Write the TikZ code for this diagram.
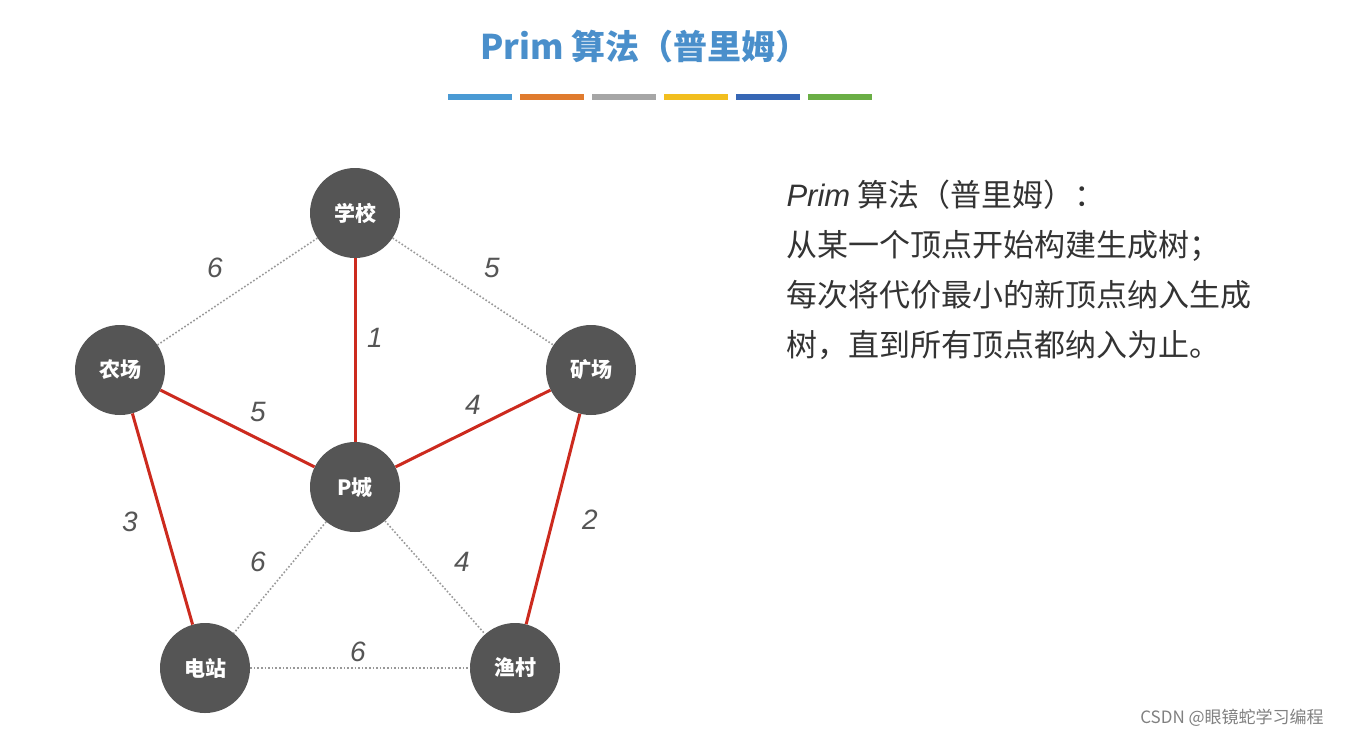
\documentclass[tikz,border=0pt]{standalone}
\usepackage{fontspec}
\setmainfont{Liberation Sans}
\newfontfamily\cjk{Noto Sans CJK SC}
\definecolor{nodegray}{HTML}{555555}
\definecolor{redge}{HTML}{CC2A1E}
\definecolor{titleblue}{HTML}{4A8FCB}
\definecolor{labgray}{HTML}{555555}
\begin{document}
\begin{tikzpicture}[x=1pt,y=-1pt,
  city/.style={circle,fill=nodegray,minimum size=90pt,inner sep=0pt,text=white,font=\cjk\bfseries\fontsize{21}{24}\selectfont},
  tree/.style={draw=redge,line width=3pt},
  other/.style={draw=gray!80,line width=1.6pt,dotted},
  wlab/.style={text=labgray,font=\itshape\fontsize{28}{32}\selectfont},
  bar/.style={line width=6pt}]
\useasboundingbox (0,0) rectangle (1354,737);
\node[text=titleblue,font=\cjk\bfseries\fontsize{34}{40}\selectfont] (title) at (645,47) {Prim 算法（普里姆）};
\foreach \c [count=\i] in {4A9AD4,E07B2E,A6A6A6,F2BE1E,3767B5,6AAE45}{
  \definecolor{bc}{HTML}{\c}
  \draw[bar,bc] (448+\i*72-72,97) -- (512+\i*72-72,97);
}
\node[city] (xx) at (355,213) {学校};
\node[city] (nc) at (120,370) {农场};
\node[city] (kc) at (591,370) {矿场};
\node[city] (pc) at (355,487) {P城};
\node[city] (dz) at (205,668) {电站};
\node[city] (yc) at (515,668) {渔村};
\path[other] (xx) -- (nc);
\path[other] (xx) -- (kc);
\path[other] (pc) -- (dz);
\path[other] (pc) -- (yc);
\path[other] (dz) -- (yc);
\path[tree] (xx) -- (pc);
\path[tree] (nc) -- (pc);
\path[tree] (kc) -- (pc);
\path[tree] (nc) -- (dz);
\path[tree] (kc) -- (yc);
\node[wlab] (l1) at (215,268) {6};
\node[wlab] (l2) at (492,268) {5};
\node[wlab] (l3) at (375,338) {1};
\node[wlab] (l4) at (258,412) {5};
\node[wlab] (l5) at (473,405) {4};
\node[wlab] (l6) at (130,522) {3};
\node[wlab] (l7) at (590,520) {2};
\node[wlab] (l8) at (258,562) {6};
\node[wlab] (l9) at (462,562) {4};
\node[wlab] (l10) at (358,652) {6};
\node[anchor=north west,align=left,text=black!80,font=\cjk\fontsize{31}{50}\selectfont] (desc) at (783,176)
 {{\fontspec{Liberation Sans}\itshape Prim} 算法（普里姆）：\\从某一个顶点开始构建生成树；\\每次将代价最小的新顶点纳入生成\\树，直到所有顶点都纳入为止。};
\node[text=gray,font=\cjk\fontsize{17}{20}\selectfont] (wm) at (1232,718) {CSDN @眼镜蛇学习编程};
\end{tikzpicture}
\end{document}
